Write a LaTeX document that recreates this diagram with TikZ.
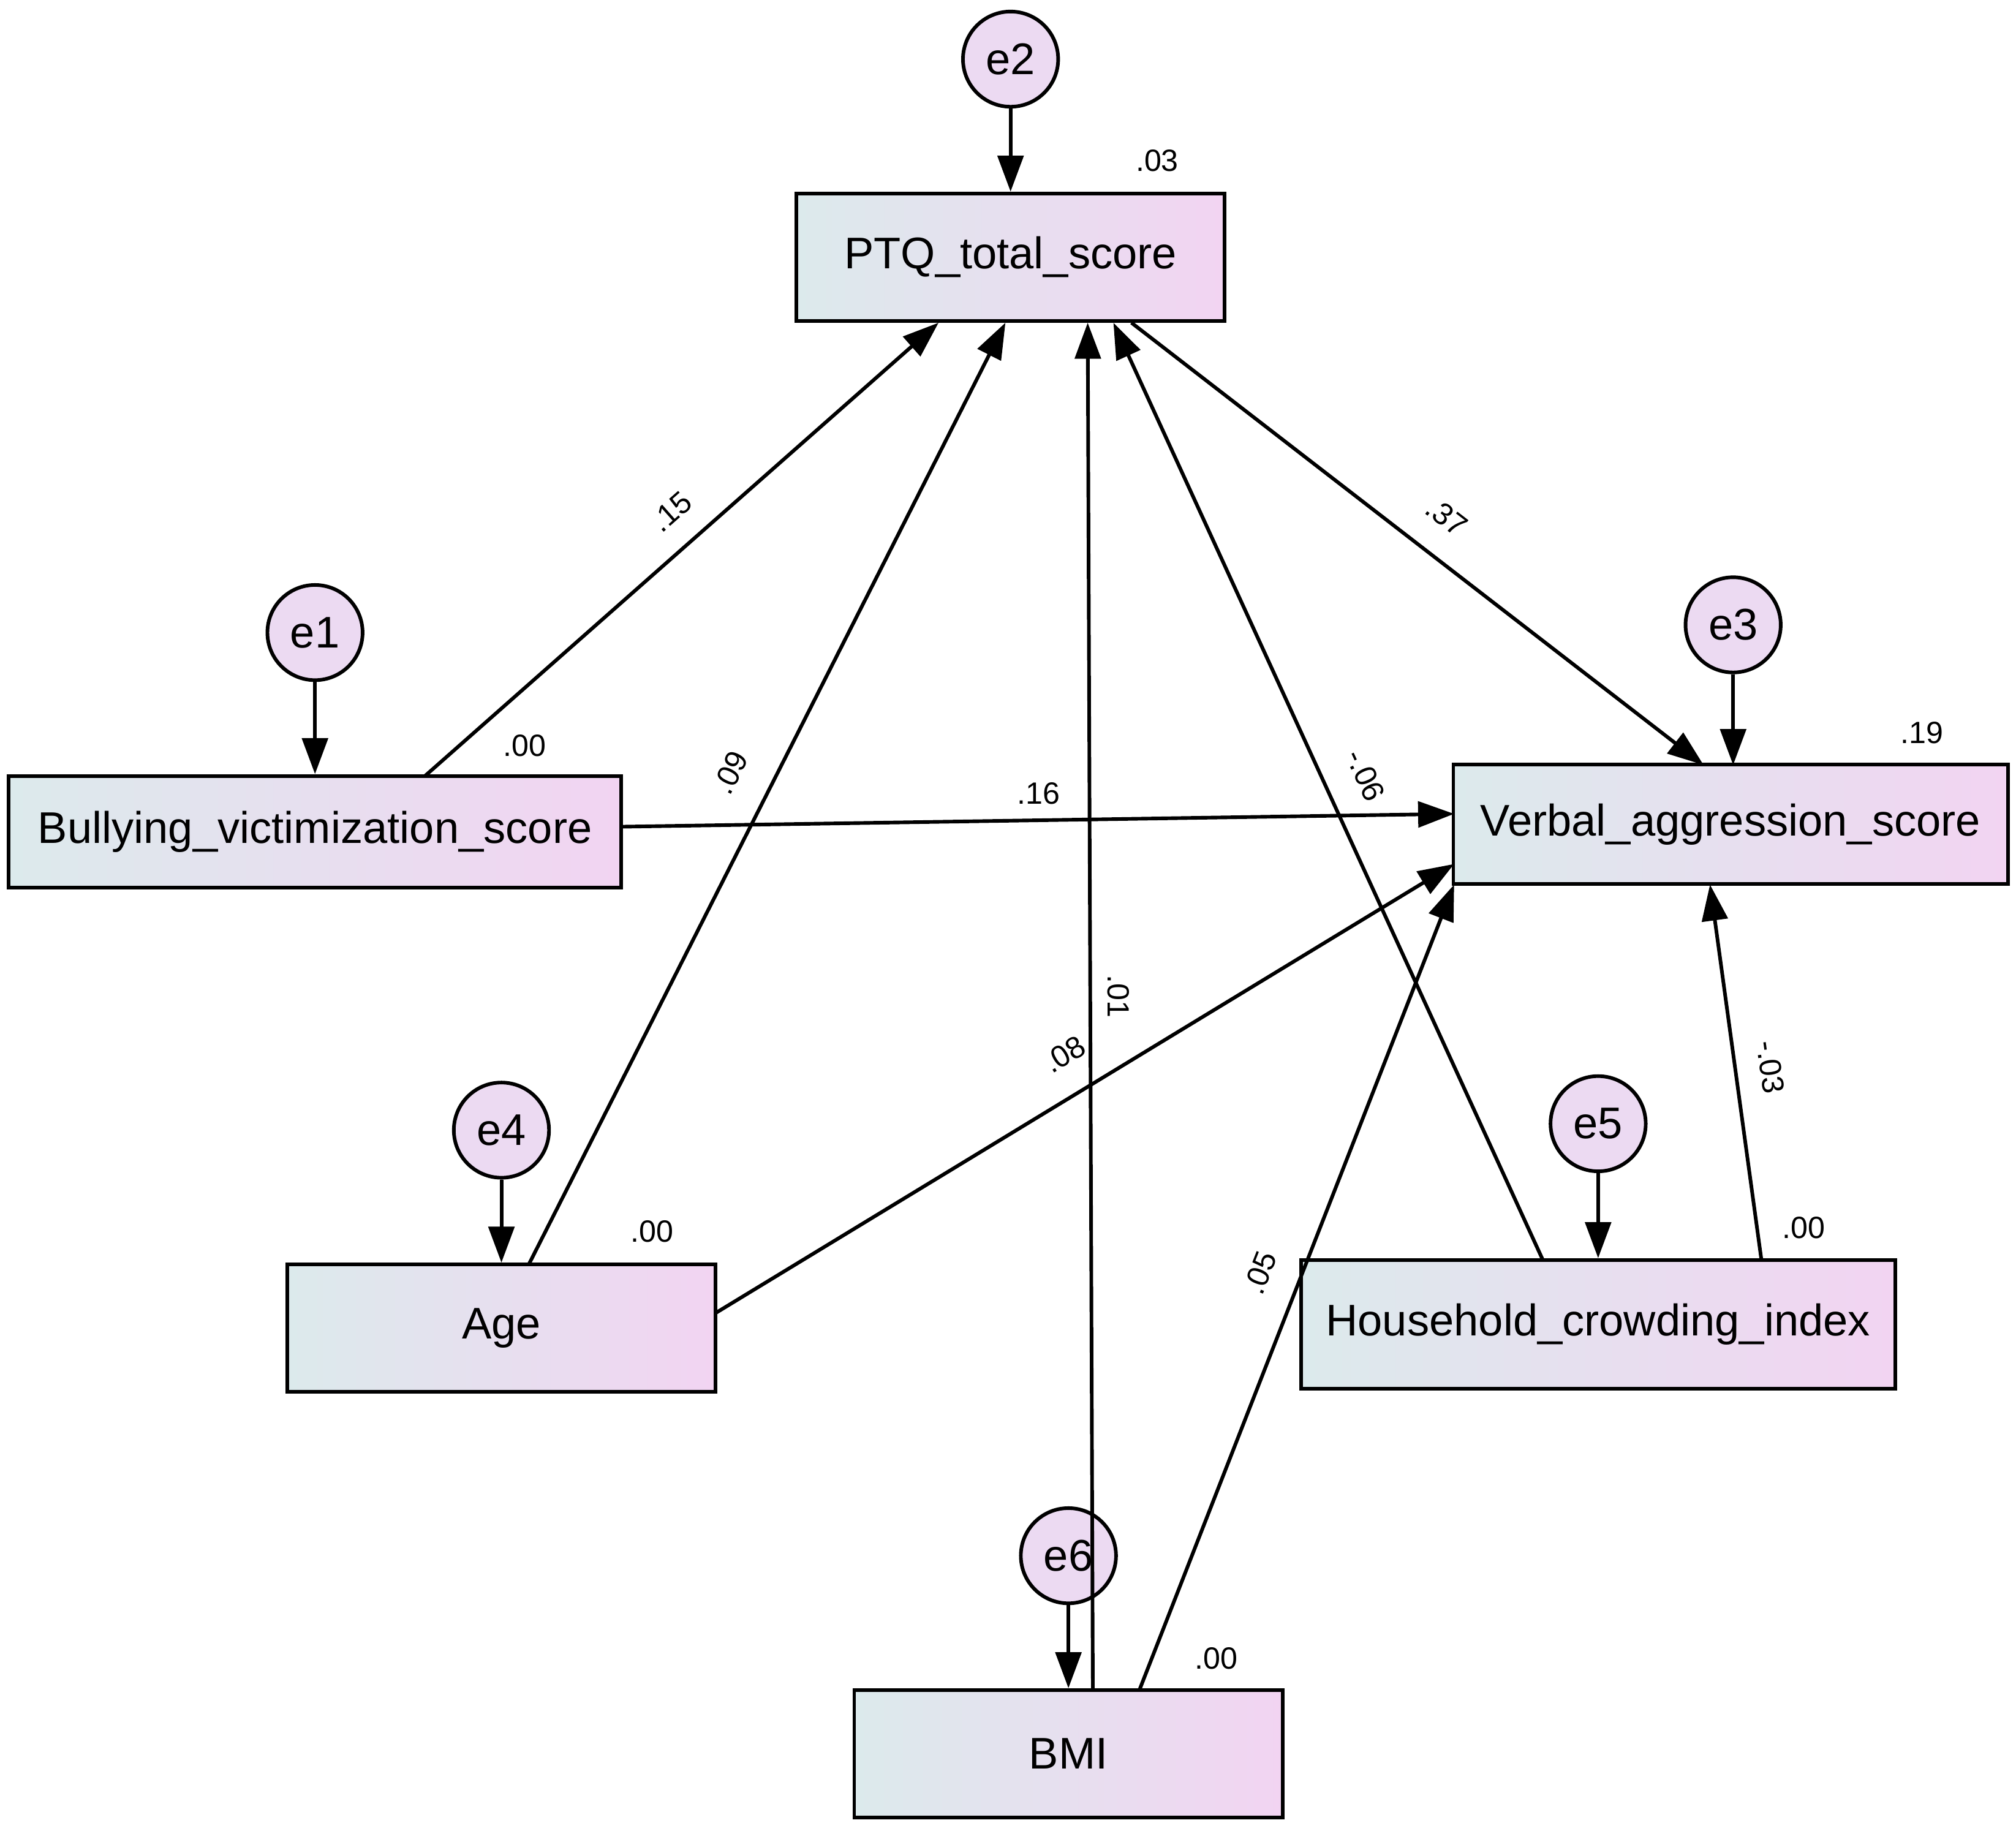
\documentclass[tikz,border=0pt]{standalone}
\usepackage{fontspec}
\setmainfont{Liberation Sans}
\usetikzlibrary{arrows.meta}
\definecolor{lb}{RGB}{220,234,236}
\definecolor{pk}{RGB}{242,212,242}
\definecolor{ck}{RGB}{236,218,242}
\begin{document}
\begin{tikzpicture}[x=0.01cm,y=-0.01cm,
 box/.style={draw,line width=0.8pt,left color=lb,right color=pk,inner sep=0pt,font=\fontsize{9.8}{9.8}\selectfont},
 err/.style={draw,circle,line width=0.8pt,fill=ck,minimum size=0.74cm,inner sep=0pt,font=\fontsize{9.8}{9.8}\selectfont},
 arr/.style={line width=0.8pt,-{Triangle[length=0.28cm,width=0.2cm]}},
 lab/.style={font=\fontsize{6.8}{6.8}\selectfont,inner sep=0pt}]
\useasboundingbox (0,0) rectangle (1568,1424);
\node[box,minimum width=3.33cm,minimum height=0.99cm] (ptq) at (786,200) {PTQ\_total\_score};
\node[box,minimum width=4.76cm,minimum height=0.87cm] (bul) at (245,647) {Bullying\_victimization\_score};
\node[box,minimum width=4.31cm,minimum height=0.93cm] (ver) at (1346,641) {Verbal\_aggression\_score};
\node[box,minimum width=3.33cm,minimum height=0.99cm] (age) at (390,1033) {Age};
\node[box,minimum width=4.62cm,minimum height=1.0cm] (hou) at (1243,1030) {Household\_crowding\_index};
\node[box,minimum width=3.33cm,minimum height=0.99cm] (bmi) at (831,1364) {BMI};
\node[err] (e2) at (786,46) {e2};
\node[err] (e1) at (245,492) {e1};
\node[err] (e3) at (1348,486) {e3};
\node[err] (e4) at (390,879) {e4};
\node[err] (e5) at (1243,874) {e5};
\node[err] (e6) at (831,1210) {e6};
\draw[arr] (e2) -- (ptq.north);
\draw[arr] (e1) -- (bul.north);
\draw[arr] (e3) -- (1348,595);
\draw[arr] (e4) -- (age.north);
\draw[arr] (e5) -- (hou.north);
\draw[arr] (e6) -- (bmi.north);
\coordinate (p1) at (730,251); \coordinate (p2) at (782,251); \coordinate (p3) at (846,251); \coordinate (p4) at (866,251);
\draw[arr] (330,604) -- (p1);
\draw[arr] (411,984) -- (p2);
\draw[arr] (850,1315) -- (p3);
\draw[arr] (1200,980) -- (p4);
\draw[arr] (880,251) -- (1325,595);
\draw[arr] (483,643) -- (1131,633);
\draw[arr] (557,1021) -- (1131,672);
\draw[arr] (886,1315) -- (1131,688);
\draw[arr] (1370,980) -- (1330,688);
\node[lab,rotate=41.4] at (522,398) {.15};
\node[lab,rotate=63.2] at (568,601) {.09};
\node[lab,rotate=-90] at (870,775) {.01};
\node[lab,rotate=-65.4] at (1062,603) {-.06};
\node[lab,rotate=-37.7] at (1125,402) {.37};
\node[lab] at (808,617) {.16};
\node[lab,rotate=31.3] at (828,820) {.08};
\node[lab,rotate=68.7] at (980,990) {.05};
\node[lab,rotate=-82.2] at (1377,830) {-.03};
\node[lab] at (900,125) {.03};
\node[lab] at (408,580) {.00};
\node[lab] at (1495,570) {.19};
\node[lab] at (507,958) {.00};
\node[lab] at (1403,955) {.00};
\node[lab] at (946,1290) {.00};
\end{tikzpicture}
\end{document}
